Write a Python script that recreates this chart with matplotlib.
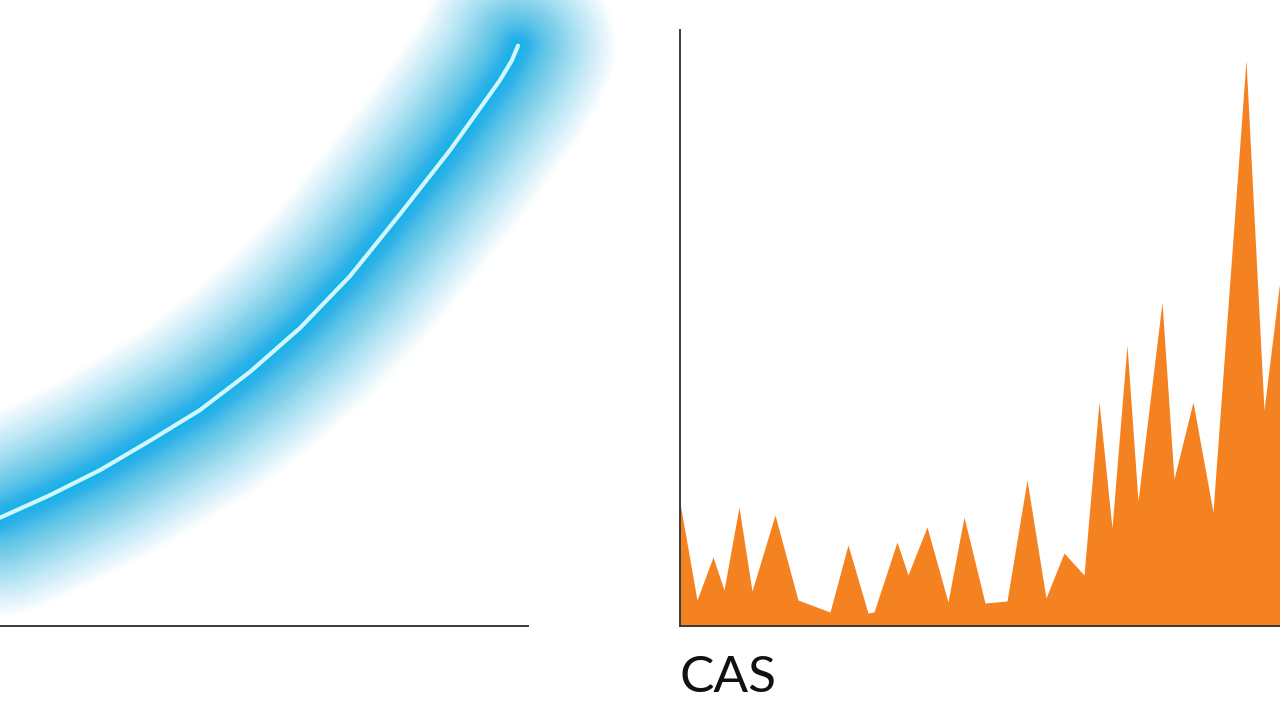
import numpy as np
import matplotlib
matplotlib.use('Agg')
import matplotlib.pyplot as plt

# left panel: glowing growth curve
curve_x = [0, 0.947, 1.894, 2.841, 3.788, 4.735, 5.682, 6.629, 7.576, 8.523,
           9.091, 9.470, 9.697, 9.811]
curve_y = [1.73, 2.09, 2.49, 2.96, 3.45, 4.06, 4.76, 5.59, 6.58, 7.60,
           8.27, 8.72, 9.04, 9.27]

# right panel: CAS spiky area
cas_x = [0, 1.7, 3.3, 4.4, 5.9, 7.2, 9.5, 11.8, 15.0, 16.8, 18.8, 19.4, 21.7, 22.8,
         24.7, 26.8, 28.4, 30.5, 32.7, 34.7, 36.6, 38.4, 40.4, 41.9, 43.2, 44.7,
         45.8, 48.2, 49.4, 51.3, 53.3, 56.6, 58.4, 60.0]
cas_y = [12.3, 2.6, 6.9, 3.6, 11.9, 3.5, 11.1, 2.6, 1.4, 8.1, 1.3, 1.4, 8.4, 5.1,
         9.9, 2.4, 10.9, 2.3, 2.5, 14.6, 2.8, 7.3, 5.1, 22.4, 9.8, 28.1,
         12.5, 32.4, 14.7, 22.4, 11.4, 56.6, 21.6, 34.6]
label = 'CAS'

W, H = 1280, 720
fig = plt.figure(figsize=(12.8, 7.2), dpi=100)
fig.patch.set_facecolor('white')

axis_col = '#3a3a3a'

# ---- left panel
ax1 = fig.add_axes([0, (H - 626) / H, 528 / W, 626 / H])
ax1.set_xlim(0, 10)
ax1.set_ylim(0, 10)
glow = '#12b2e8'
# soft glow: many thin transparent strokes stacked
for w in np.geomspace(140, 8, 70):
    ax1.plot(curve_x, curve_y, color=glow, lw=w, alpha=0.03,
             solid_capstyle='round', solid_joinstyle='round', clip_on=False)
ax1.plot(curve_x, curve_y, color='#10b4ea', lw=6, alpha=0.7,
         solid_capstyle='round', solid_joinstyle='round', clip_on=False)
ax1.plot(curve_x, curve_y, color='#d4f4ff', lw=3,
         solid_capstyle='round', solid_joinstyle='round', clip_on=False)
for s in ['left', 'top', 'right']:
    ax1.spines[s].set_visible(False)
ax1.spines['bottom'].set_color(axis_col)
ax1.spines['bottom'].set_linewidth(1.4)
ax1.spines['bottom'].set_zorder(5)
ax1.set_xticks([])
ax1.set_yticks([])
ax1.patch.set_alpha(0)

# ---- right panel
ax2 = fig.add_axes([680 / W, (H - 626) / H, 600 / W, 596 / H])
ax2.set_xlim(0, 60)
ax2.set_ylim(0, 59.6)
ax2.fill_between(cas_x, cas_y, 0, color='#f58220', lw=0)
for s in ['top', 'right']:
    ax2.spines[s].set_visible(False)
for s in ['left', 'bottom']:
    ax2.spines[s].set_color(axis_col)
    ax2.spines[s].set_linewidth(1.4)
ax2.set_xticks([])
ax2.set_yticks([])

fig.text(680 / W, 1 - 692 / H, label, fontsize=37, family='Lato',
         color='#111111', ha='left', va='baseline')

fig.savefig('out.png', dpi=100, facecolor='white')
